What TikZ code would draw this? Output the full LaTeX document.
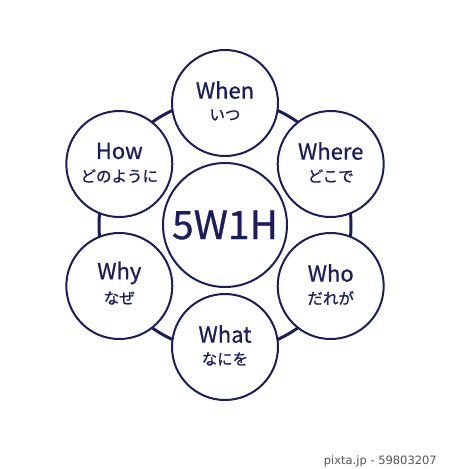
\documentclass[tikz,border=0pt]{standalone}
\usepackage{fontspec}
\setmainfont{Noto Sans CJK JP}[FakeBold=0.8]
\newfontfamily\wmfont{DejaVu Sans}
\definecolor{navy}{HTML}{1B1D5E}
\definecolor{wmgray}{HTML}{555555}
\tikzset{
  ring/.style={draw=navy, line width=3pt},
  outer/.style={circle, draw=navy, line width=2pt, fill=white, minimum size=106pt, inner sep=0pt},
  hub/.style={circle, draw=navy, line width=2pt, fill=white, minimum size=124pt, inner sep=0pt},
  en/.style={text=navy, inner sep=0pt, font=\fontsize{22}{22}\selectfont},
  jp/.style={text=navy, inner sep=0pt, font=\fontsize{15.5}{15.5}\selectfont},
  big/.style={text=navy, inner sep=0pt, font=\fontsize{39}{39}\selectfont},
  wm/.style={text=wmgray, inner sep=0pt, font=\wmfont\fontsize{11.5}{11.5}\selectfont}
}
\begin{document}
\begin{tikzpicture}[x=1pt,y=-1pt]
\useasboundingbox (0,0) rectangle (450,469);
\fill[white] (0,0) rectangle (450,469);
\coordinate (o) at (225,225);
\draw[ring] (o) circle (126);
\node[hub] (hub) at (o) {};
\node[big] (hubt) at (hub.center) {5W1H};
\node[outer] (when) at (225,103) {};
\node[outer] (where) at (330.7,164) {};
\node[outer] (who) at (330.7,286) {};
\node[outer] (what) at (225,347) {};
\node[outer] (why) at (119.3,286) {};
\node[outer] (how) at (119.3,164) {};
\foreach \n/\e/\j in {when/When/いつ, where/Where/どこで, who/Who/だれが, what/What/なにを, why/Why/なぜ, how/How/どのように}{
  \node[en] (\n-en) at ([yshift=13pt]\n.center) {\e};
  \node[jp] (\n-jp) at ([yshift=-12pt]\n.center) {\j};
}
\node[wm, anchor=east] (wmark) at (437,461) {pixta.jp - 59803207};
\end{tikzpicture}
\end{document}
